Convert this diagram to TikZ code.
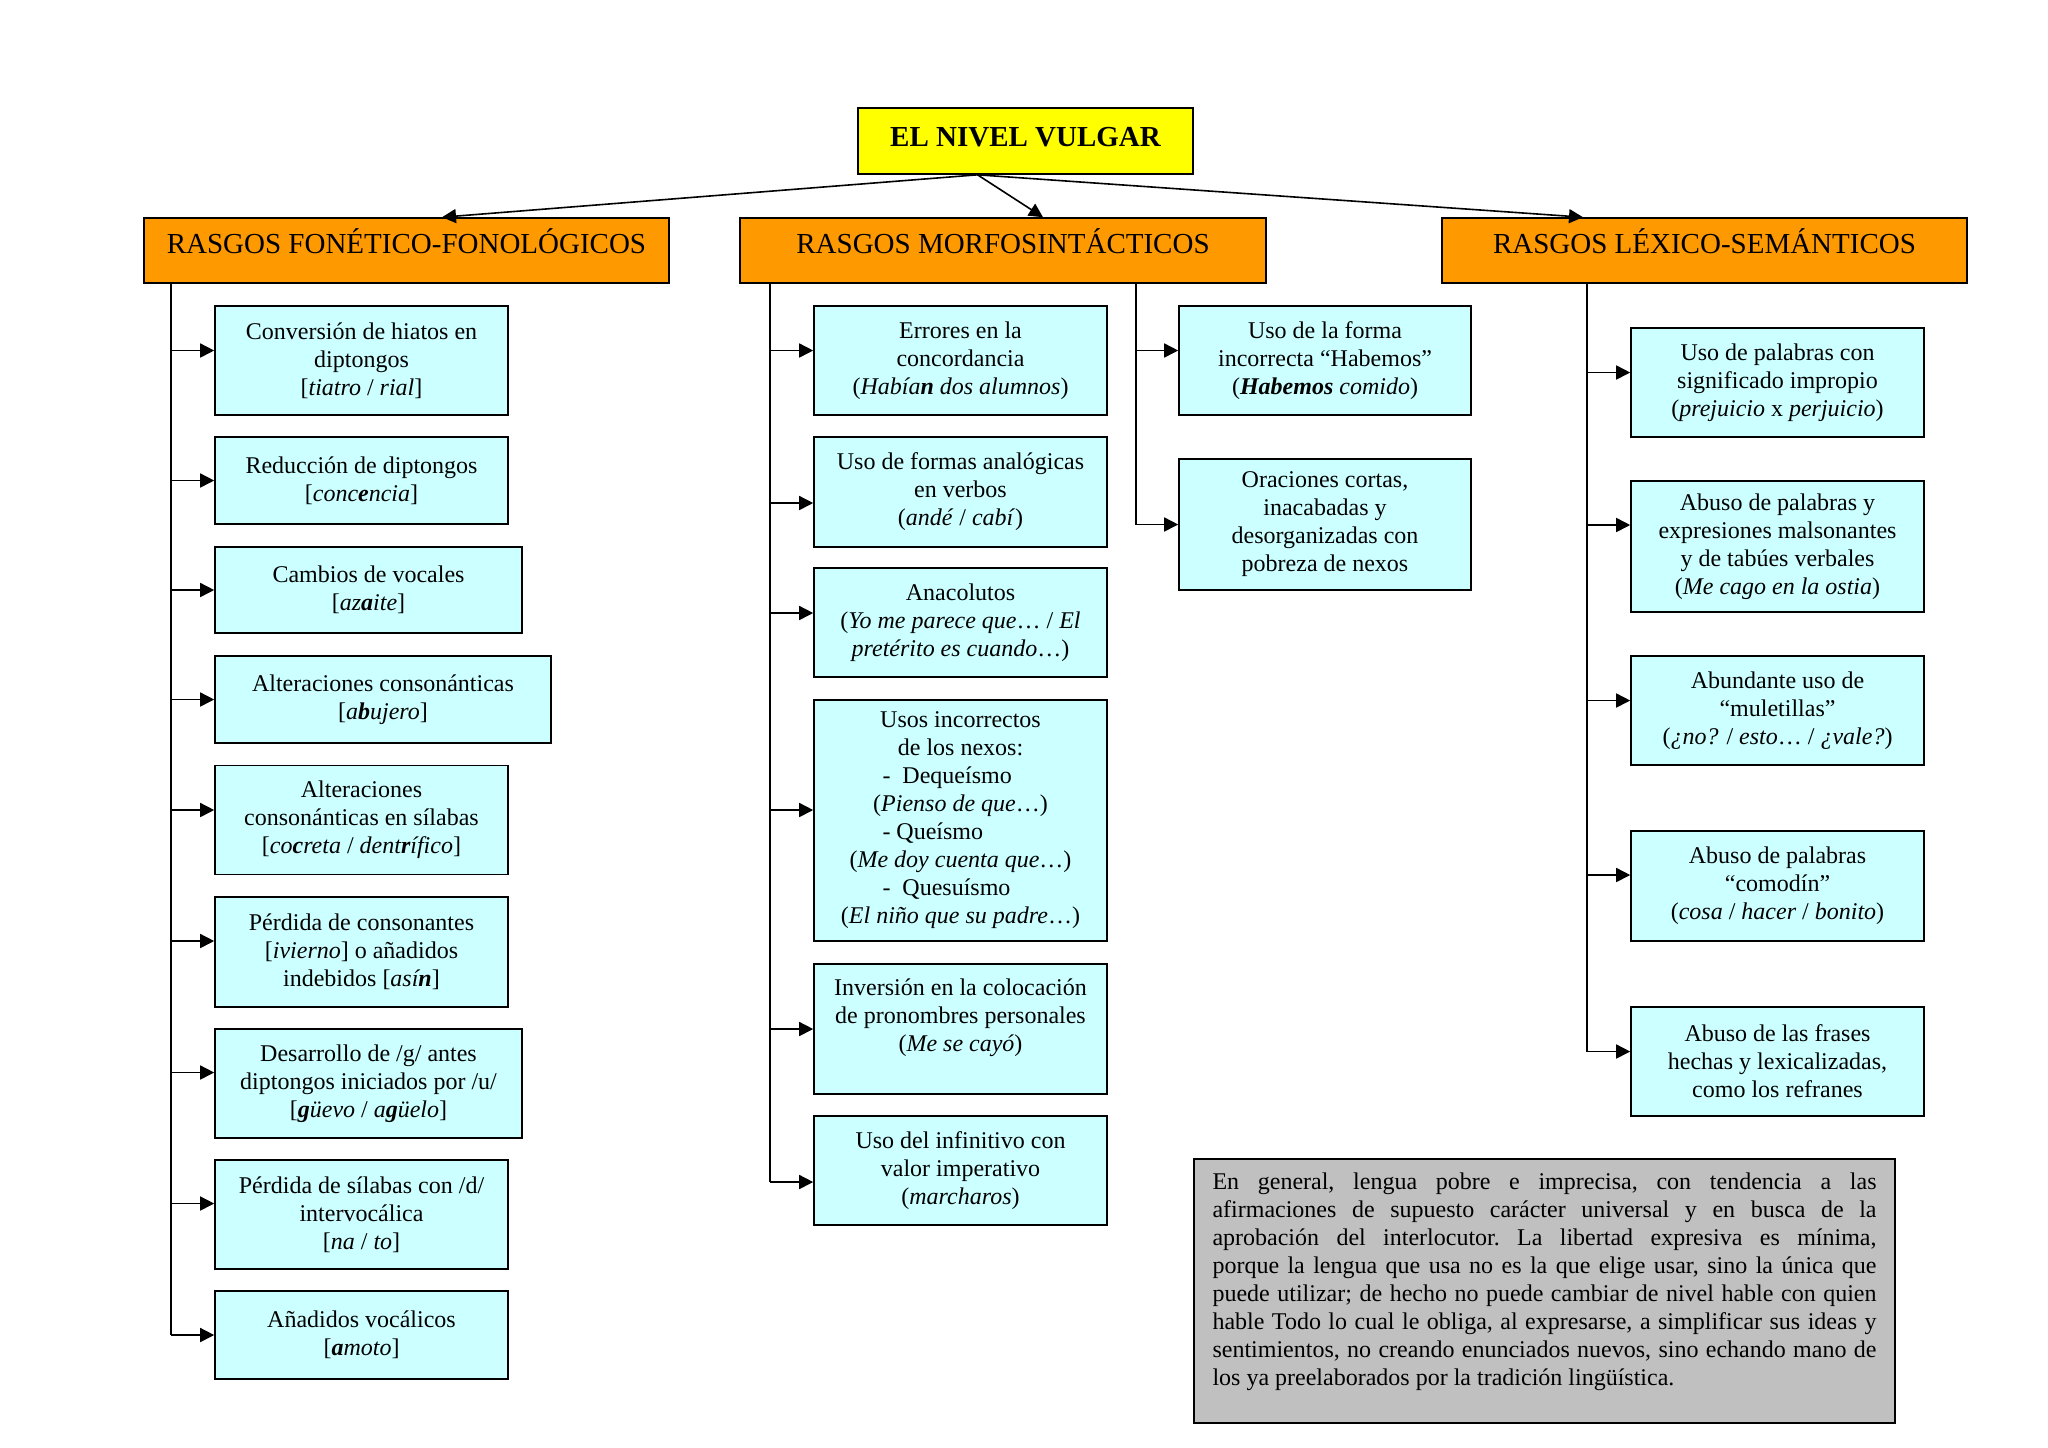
\documentclass[tikz,border=0pt]{standalone}
\usepackage{fontspec}
\setmainfont{Liberation Serif}
\usetikzlibrary{arrows.meta}
\definecolor{yellowtitle}{HTML}{FFFF00}
\definecolor{orangehead}{HTML}{FF9900}
\definecolor{cyanitem}{HTML}{CCFFFF}
\definecolor{graynote}{HTML}{C0C0C0}
\tikzset{
    title_box/.style = {
        draw=black,
        line width=0.8pt,
        fill=yellowtitle,
        inner sep=0pt,
        text height=9.6pt,
        text depth=4pt,
        font=\fontsize{14.5}{17}\selectfont\bfseries
    },
    head_box/.style = {
        draw=black,
        line width=0.8pt,
        fill=orangehead,
        inner sep=0pt,
        minimum height=32.5pt,
        text height=9pt,
        text depth=6.4pt,
        font=\fontsize{14.5}{17}\selectfont
    },
    item_box/.style = {
        draw=black,
        line width=0.8pt,
        fill=cyanitem,
        inner sep=0pt,
        align=center,
        font=\fontsize{12}{14}\selectfont
    },
    note_box/.style = {
        draw=black,
        line width=0.8pt,
        fill=graynote,
        inner sep=0pt
    },
    main_line/.style = {
        draw=black,
        line width=0.8pt
    },
    main_arrow/.style = {
        draw=black,
        line width=0.8pt,
        -{Triangle[length=7pt, width=7pt]}
    },
}
\begin{document}
\begin{tikzpicture}[x=0.5pt, y=-0.5pt]
                \useasboundingbox (0, 0) rectangle (2048, 1447);

                \node[title_box, minimum width=167.5pt, minimum height=33pt] (title) at (1025.5, 141) {EL NIVEL VULGAR};

                \node[head_box, minimum width=262.5pt] (fon_head) at (406.5, 250.5) {RASGOS FONÉTICO-FONOLÓGICOS};
                \node[head_box, minimum width=263pt] (mor_head) at (1003, 250.5) {RASGOS MORFOSINTÁCTICOS};
                \node[head_box, minimum width=262.5pt] (lex_head) at (1704.5, 250.5) {RASGOS LÉXICO-SEMÁNTICOS};

                \coordinate (title_foot) at ([xshift=-24pt]title.south);
                \draw[main_arrow] (title_foot) -- ([xshift=17.75pt]fon_head.north);
                \draw[main_arrow] (title_foot) -- ([xshift=20pt]mor_head.north);
                \draw[main_arrow] (title_foot) -- ([xshift=-60.75pt]lex_head.north);

                \begin{scope}
                    \node[item_box, minimum width=146.5pt, minimum height=54.5pt] (fon1) at (361.5, 360.5) {Conversión de hiatos en\\ diptongos\\ {[}\textit{tiatro} / \textit{rial}{]}};
                    \node[item_box, minimum width=146.5pt, minimum height=43.5pt] (fon2) at (361.5, 480.5) {Reducción de diptongos\\ {[}\textit{conc\textbf{e}ncia}{]}};
                    \node[item_box, minimum width=153.5pt, minimum height=43pt] (fon3) at (368.5, 590) {Cambios de vocales\\ {[}\textit{az\textbf{a}ite}{]}};
                    \node[item_box, minimum width=168pt, minimum height=43.5pt] (fon4) at (383, 699.5) {Alteraciones consonánticas\\ {[}\textit{a\textbf{b}ujero}{]}};
                    \node[item_box, minimum width=146.5pt, minimum height=54.5pt] (fon5) at (361.5, 820) {Alteraciones\\ consonánticas en sílabas\\ {[}\textit{co\textbf{c}reta} / \textit{dent\textbf{r}ífico}{]}};
                    \node[item_box, minimum width=146.5pt, minimum height=55pt] (fon6) at (361.5, 952) {Pérdida de consonantes\\ {[}\textit{ivierno}{]} o añadidos\\ indebidos {[}\textit{así\textbf{n}}{]}};
                    \node[item_box, minimum width=153.5pt, minimum height=54.5pt] (fon7) at (368.5, 1083.5) {Desarrollo de /g/ antes\\ diptongos iniciados por /u/\\ {[}\textit{\textbf{g}üevo} / \textit{a\textbf{g}üelo}{]}};
                    \node[item_box, minimum width=146.5pt, minimum height=54.5pt] (fon8) at (361.5, 1214.5) {Pérdida de sílabas con /d/\\ intervocálica\\ {[}\textit{na} / \textit{to}{]}};
                    \node[item_box, minimum width=146.5pt, minimum height=44pt] (fon9) at (361.5, 1335) {Añadidos vocálicos\\ {[}\textit{\textbf{a}moto}{]}};

                    \coordinate (fon_spine) at ([xshift=14pt]fon_head.south west);
                    \path[main_line] (fon_spine) -- (fon9.west -| fon_spine);
                    \draw[main_arrow] ([yshift=5pt]fon1.west -| fon_spine) -- ([yshift=5pt]fon1.west);
                    \draw[main_arrow] (fon2.west -| fon_spine) -- (fon2.west);
                    \draw[main_arrow] (fon3.west -| fon_spine) -- (fon3.west);
                    \draw[main_arrow] (fon4.west -| fon_spine) -- (fon4.west);
                    \draw[main_arrow] ([yshift=5pt]fon5.west -| fon_spine) -- ([yshift=5pt]fon5.west);
                    \draw[main_arrow] ([yshift=5.5pt]fon6.west -| fon_spine) -- ([yshift=5.5pt]fon6.west);
                    \draw[main_arrow] ([yshift=5.5pt]fon7.west -| fon_spine) -- ([yshift=5.5pt]fon7.west);
                    \draw[main_arrow] ([yshift=5.5pt]fon8.west -| fon_spine) -- ([yshift=5.5pt]fon8.west);
                    \draw[main_arrow] (fon9.west -| fon_spine) -- (fon9.west);
                \end{scope}

                \begin{scope}
                    \node[item_box, minimum width=146.5pt, minimum height=54.5pt] (mor1) at (960.5, 360.5) {Errores en la\\ concordancia\\ (\textit{Había\textbf{n} dos alumnos})};
                    \node[item_box, minimum width=146.5pt, minimum height=55pt] (mor2) at (960.5, 492) {Uso de formas analógicas\\ en verbos\\ (\textit{andé} / \textit{cabí})};
                    \node[item_box, minimum width=146.5pt, minimum height=54.5pt] (mor3) at (960.5, 622.5) {Anacolutos\\ (\textit{Yo me parece que}… / \textit{El}\\ \textit{pretérito es cuando}…)};
                    \node[item_box, minimum width=146.5pt, minimum height=120.5pt] (mor4) at (960.5, 820.5) {Usos incorrectos\\ de los nexos:\\ \makebox[78pt][l]{-\ \ Dequeísmo}\\ (\textit{Pienso de que}…)\\ \makebox[78pt][l]{- Queísmo}\\ (\textit{Me doy cuenta que}…)\\ \makebox[78pt][l]{-\ \ Quesuísmo}\\ (\textit{El niño que su padre}…)};
                    \node[item_box, minimum width=146.5pt, minimum height=65pt] (mor5) at (960.5, 1029) {Inversión en la colocación\\ de pronombres personales\\ (\textit{Me se cayó})\\ \mbox{}};
                    \node[item_box, minimum width=146.5pt, minimum height=54.5pt] (mor6) at (960.5, 1170.5) {Uso del infinitivo con\\ valor imperativo\\ (\textit{marcharos})};
                    \node[item_box, minimum width=146pt, minimum height=54.5pt] (mor7) at (1325, 360.5) {Uso de la forma\\ incorrecta “Habemos”\\ (\textbf{\textit{Habemos}} \textit{comido})};
                    \node[item_box, minimum width=146pt, minimum height=65.5pt] (mor8) at (1325, 524.5) {Oraciones cortas,\\ inacabadas y\\ desorganizadas con\\ pobreza de nexos};

                    \coordinate (mor_spine) at ([xshift=15.5pt]mor_head.south west);
                    \coordinate (mor_spine_b) at ([xshift=-65.5pt]mor_head.south east);
                    \path[main_line] (mor_spine) -- ([yshift=-5.75pt]mor6.west -| mor_spine);
                    \path[main_line] (mor_spine_b) -- (mor8.west -| mor_spine_b);
                    \draw[main_arrow] ([yshift=5pt]mor1.west -| mor_spine) -- ([yshift=5pt]mor1.west);
                    \draw[main_arrow] ([yshift=-5.5pt]mor2.west -| mor_spine) -- ([yshift=-5.5pt]mor2.west);
                    \draw[main_arrow] ([yshift=4.75pt]mor3.west -| mor_spine) -- ([yshift=4.75pt]mor3.west);
                    \draw[main_arrow] ([yshift=5.25pt]mor4.west -| mor_spine) -- ([yshift=5.25pt]mor4.west);
                    \draw[main_arrow] (mor5.west -| mor_spine) -- (mor5.west);
                    \draw[main_arrow] ([yshift=-5.75pt]mor6.west -| mor_spine) -- ([yshift=-5.75pt]mor6.west);
                    \draw[main_arrow] ([yshift=5pt]mor7.west -| mor_spine_b) -- ([yshift=5pt]mor7.west);
                    \draw[main_arrow] (mor8.west -| mor_spine_b) -- (mor8.west);
                \end{scope}

                \begin{scope}
                    \node[item_box, minimum width=146.5pt, minimum height=54.5pt] (lex1) at (1777.5, 382.5) {Uso de palabras con\\ significado impropio\\ (\textit{prejuicio} x \textit{perjuicio})};
                    \node[item_box, minimum width=146.5pt, minimum height=65.5pt] (lex2) at (1777.5, 546.5) {Abuso de palabras y\\ expresiones malsonantes\\ y de tabúes verbales\\ (\textit{Me cago en la ostia})};
                    \node[item_box, minimum width=146.5pt, minimum height=54.5pt] (lex3) at (1777.5, 710.5) {Abundante uso de\\ “muletillas”\\ (\textit{¿no?} / \textit{esto}… / \textit{¿vale?})};
                    \node[item_box, minimum width=146.5pt, minimum height=55pt] (lex4) at (1777.5, 886) {Abuso de palabras\\ “comodín”\\ (\textit{cosa} / \textit{hacer} / \textit{bonito})};
                    \node[item_box, minimum width=146.5pt, minimum height=54.5pt] (lex5) at (1777.5, 1061.5) {Abuso de las frases\\ hechas y lexicalizadas,\\ como los refranes};

                    \coordinate (lex_spine) at ([xshift=73pt]lex_head.south west);
                    \path[main_line] (lex_spine) -- ([yshift=5pt]lex5.west -| lex_spine);
                    \draw[main_arrow] ([yshift=5pt]lex1.west -| lex_spine) -- ([yshift=5pt]lex1.west);
                    \draw[main_arrow] ([yshift=10.75pt]lex2.west -| lex_spine) -- ([yshift=10.75pt]lex2.west);
                    \draw[main_arrow] ([yshift=5pt]lex3.west -| lex_spine) -- ([yshift=5pt]lex3.west);
                    \draw[main_arrow] ([yshift=5.5pt]lex4.west -| lex_spine) -- ([yshift=5.5pt]lex4.west);
                    \draw[main_arrow] ([yshift=5pt]lex5.west -| lex_spine) -- ([yshift=5pt]lex5.west);
                \end{scope}

                \node[note_box, minimum width=350.5pt, minimum height=132pt] (note) at (1544.5, 1291) {};
                \node[anchor=north, inner sep=0pt, text width=332pt, align=justify, font=\fontsize{12}{14}\selectfont\frenchspacing] (note_text) at ([yshift=-7pt]note.north) {En general, lengua pobre e imprecisa, con tendencia a las\linebreak afirmaciones de supuesto carácter universal y en busca de la\linebreak aprobación del interlocutor. La libertad expresiva es mínima,\linebreak porque la lengua que usa no es la que elige usar, sino la única que\linebreak puede utilizar; de hecho no puede cambiar de nivel hable con quien\linebreak hable Todo lo cual le obliga, al expresarse, a simplificar sus ideas y\linebreak sentimientos, no creando enunciados nuevos, sino echando mano de\linebreak los ya preelaborados por la tradición lingüística.};
            \end{tikzpicture}
\end{document}
